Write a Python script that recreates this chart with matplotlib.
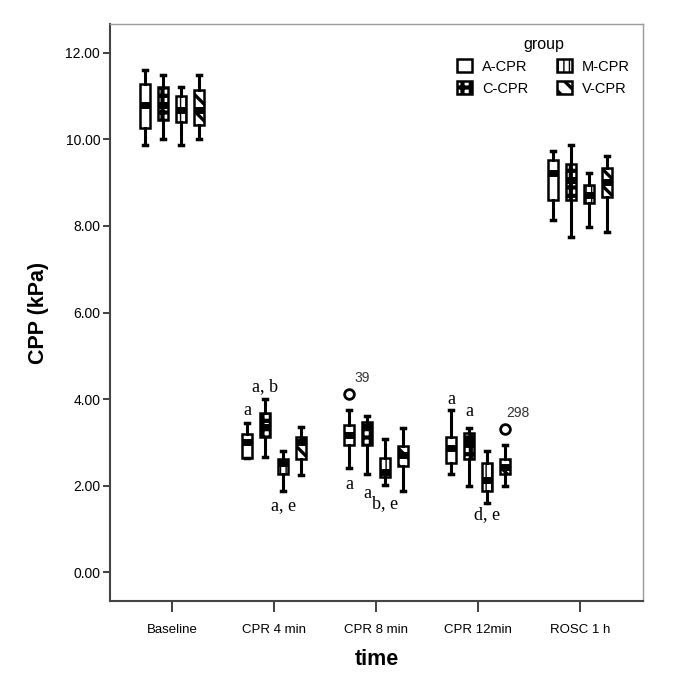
import matplotlib
matplotlib.use("Agg")
import matplotlib.pyplot as plt
from matplotlib.patches import Patch
import numpy as np

plt.rcParams['font.family'] = ['Liberation Sans', 'DejaVu Sans']
plt.rcParams['hatch.linewidth'] = 2.0

times = ["Baseline", "CPR 4 min", "CPR 8 min", "CPR 12min", "ROSC 1 h"]
groups = ["A-CPR", "C-CPR", "M-CPR", "V-CPR"]

# per group: rows = time points; [whisker_low, q1, median, q3, whisker_high]
A_CPR = [[9.86, 10.26, 10.80, 11.28, 11.61],
         [2.65, 2.65, 3.00, 3.19, 3.46],
         [2.40, 2.94, 3.17, 3.40, 3.75],
         [2.26, 2.53, 2.87, 3.13, 3.75],
         [8.14, 8.60, 9.22, 9.53, 9.74]]
C_CPR = [[10.00, 10.45, 10.80, 11.21, 11.49],
         [2.67, 3.13, 3.36, 3.67, 4.00],
         [2.26, 2.94, 3.36, 3.48, 3.61],
         [2.00, 2.61, 3.05, 3.21, 3.34],
         [7.74, 8.60, 9.06, 9.43, 9.87]]
M_CPR = [[9.86, 10.41, 10.67, 11.00, 11.20],
         [1.88, 2.26, 2.52, 2.61, 2.80],
         [2.01, 2.19, 2.32, 2.65, 3.07],
         [1.59, 1.87, 2.14, 2.53, 2.80],
         [7.98, 8.54, 8.72, 8.95, 9.22]]
V_CPR = [[10.00, 10.33, 10.68, 11.13, 11.49],
         [2.24, 2.61, 3.01, 3.13, 3.35],
         [1.88, 2.45, 2.71, 2.91, 3.34],
         [2.00, 2.28, 2.43, 2.61, 2.94],
         [7.87, 8.68, 9.02, 9.33, 9.62]]

# outliers: (group index, time index, value, case label)
outliers = [(0, 2, 4.13, "39"), (3, 3, 3.32, "298")]

# significance annotations: (group index, time index, text, y position)
annotations = [(0, 1, "a", 3.74), (1, 1, "a, b", 4.28), (2, 1, "a, e", 1.55),
               (0, 2, "a", 2.03), (1, 2, "a", 1.83), (2, 2, "b, e", 1.59),
               (0, 3, "a", 3.99), (1, 3, "a", 3.72), (2, 3, "d, e", 1.34)]

data = [A_CPR, C_CPR, M_CPR, V_CPR]
hatches = [None, '++', '|||', '\\\\']
hatch_lw = [1.0, 3.0, 1.0, 2.4]
offsets = [-0.265, -0.088, 0.088, 0.265]

fig = plt.figure(figsize=(7, 7), dpi=100)
ax = fig.add_axes([0.157, 0.141, 0.762, 0.825])

for gi, g in enumerate(data):
    stats = []
    for ti, row in enumerate(g):
        fl = [o[2] for o in outliers if o[0] == gi and o[1] == ti]
        stats.append(dict(whislo=row[0], q1=row[1], med=row[2], q3=row[3],
                          whishi=row[4], fliers=fl, label=times[ti]))
    pos = np.arange(len(times)) + offsets[gi]
    res = ax.bxp(stats, positions=pos, widths=0.1, capwidths=0.045,
                 patch_artist=True, manage_ticks=False,
                 boxprops=dict(facecolor='white', edgecolor='black', linewidth=1.8),
                 medianprops=dict(color='black', linewidth=5, solid_capstyle='butt'),
                 whiskerprops=dict(color='black', linewidth=2.2),
                 capprops=dict(color='black', linewidth=2.5),
                 flierprops=dict(marker='o', markersize=7, markerfacecolor='none',
                                 markeredgecolor='black', markeredgewidth=2))
    for b in res['boxes']:
        if hatches[gi]:
            b.set_hatch(hatches[gi])
            if hasattr(b, 'set_hatch_linewidth'):
                b.set_hatch_linewidth(hatch_lw[gi])

for gi, ti, v, lab in outliers:
    ax.text(ti + offsets[gi] + 0.13, v + 0.36, lab, fontsize=10, color='#333333',
            ha='center', va='center')

for gi, ti, txt, yv in annotations:
    ax.text(ti + offsets[gi], yv, txt, fontsize=13, family=['Liberation Serif'],
            ha='center', va='center')

ax.set_xlim(-0.61, 4.62)
ax.set_ylim(-0.67, 12.67)
ax.set_xticks(np.arange(len(times)))
ax.set_xticklabels(times, fontsize=9.5)
yt = np.arange(0, 13, 2)
ax.set_yticks(yt)
ax.set_yticklabels(["%.2f" % v for v in yt], fontsize=10)
ax.tick_params(axis='x', length=8, width=1.3, color='#333333', pad=8)
ax.tick_params(axis='y', length=5, width=1.3, color='#333333', pad=2)
for s in ['left', 'bottom']:
    ax.spines[s].set_color('#444444')
    ax.spines[s].set_linewidth(1.5)
for s in ['top', 'right']:
    ax.spines[s].set_color('#999999')
    ax.spines[s].set_linewidth(1.0)

ax.set_ylabel("CPP (kPa)", fontsize=15.5, fontweight='bold', labelpad=12)
ax.set_xlabel("time", fontsize=15.5, fontweight='bold', labelpad=10)

handles = []
for gi in range(4):
    p = Patch(facecolor='white', edgecolor='black', linewidth=1.8,
              hatch=hatches[gi], label=groups[gi])
    handles.append(p)
leg = ax.legend(handles=handles, ncol=2, title="group", loc='upper right',
                frameon=False, fontsize=10.5, title_fontsize=11.5,
                bbox_to_anchor=(1.0, 1.0), handlelength=1.0, handleheight=1.0,
                columnspacing=2.0, handletextpad=0.7, labelspacing=0.5)
for h, lw in zip(leg.legend_handles, hatch_lw):
    if hasattr(h, 'set_hatch_linewidth'):
        h.set_hatch_linewidth(lw)

fig.savefig("out.png", dpi=100)
